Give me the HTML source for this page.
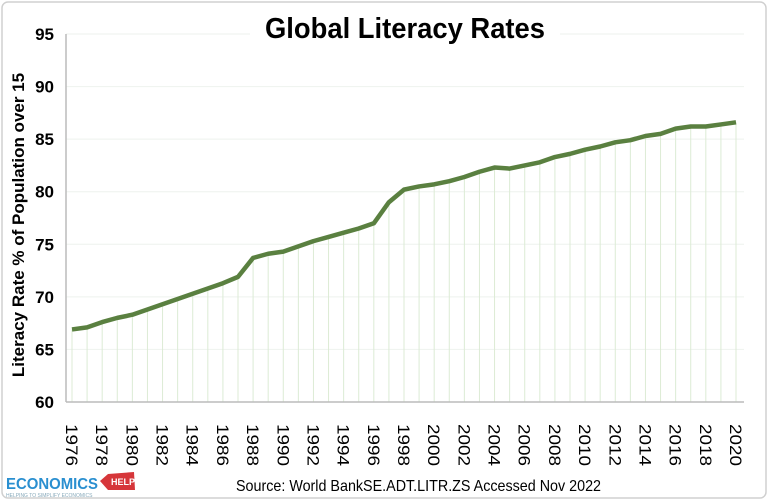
<!DOCTYPE html>
<html><head><meta charset="utf-8"><style>
body{margin:0;background:#fff;font-family:"Liberation Sans",sans-serif}
#wrap{position:relative;width:768px;height:500px;overflow:hidden}
</style></head><body>
<div id="wrap">
<svg id="svg" width="768" height="500">
<rect x="2" y="2" width="764" height="496" rx="6" fill="#fff" stroke="#d0d0d0" stroke-width="1.5"/>
<g id="grid"></g><g id="drops"></g><g id="yt"></g><g id="xt"></g>
<line x1="66" y1="34" x2="66" y2="402" stroke="#bbb" stroke-width="1.5"/>
<line x1="66" y1="402" x2="744" y2="402" stroke="#bbb" stroke-width="1.5"/>
<path id="line" fill="none" stroke="#5a8040" stroke-width="4.5" stroke-linejoin="round"/>
<rect x="250" y="8" width="310" height="36" fill="#fff"/>
<text x="405" y="38" text-anchor="middle" font-size="29" font-weight="bold" fill="#000" textLength="280" lengthAdjust="spacingAndGlyphs">Global Literacy Rates</text>
<text transform="translate(24,225) rotate(-90)" text-anchor="middle" font-size="17" font-weight="bold" fill="#000">Literacy Rate % of Population over 15</text>
<text x="6" y="489" font-size="16" font-weight="bold" fill="#2a8fd0" textLength="92" lengthAdjust="spacingAndGlyphs">ECONOMICS</text>
<path d="M100 481 L108 474 L134 472 L135 490 L108 490 Z" fill="#d6363a"/>
<text x="111" y="485" font-size="9" font-weight="bold" fill="#fff">HELP</text>
<text x="6" y="497" font-size="5" fill="#8ab">HELPING TO SIMPLIFY ECONOMICS</text>
<text x="236" y="491" font-size="16" fill="#000" textLength="365" lengthAdjust="spacingAndGlyphs">Source: World BankSE.ADT.LITR.ZS Accessed Nov 2022</text>
</svg></div>
<script>
const years=[1976,1977,1978,1979,1980,1981,1982,1983,1984,1985,1986,1987,1988,1989,1990,1991,1992,1993,1994,1995,1996,1997,1998,1999,2000,2001,2002,2003,2004,2005,2006,2007,2008,2009,2010,2011,2012,2013,2014,2015,2016,2017,2018,2019,2020];
const rates=[66.9,67.1,67.6,68.0,68.3,68.8,69.3,69.8,70.3,70.8,71.3,71.9,73.7,74.1,74.3,74.8,75.3,75.7,76.1,76.5,77.0,79.0,80.2,80.5,80.7,81.0,81.4,81.9,82.3,82.2,82.5,82.8,83.3,83.6,84.0,84.3,84.7,84.9,85.3,85.5,86.0,86.2,86.2,86.4,86.6];
const yTicks=[60,65,70,75,80,85,90,95];
const NS='http://www.w3.org/2000/svg';
function X(yr){return 72+(yr-1976)*(736-72)/44}
function Y(v){return 402-(v-60)*(368/35)}
function mk(tag,attrs,parent){const e=document.createElementNS(NS,tag);for(const k in attrs)e.setAttribute(k,attrs[k]);document.getElementById(parent).appendChild(e);return e}
yTicks.forEach(t=>{
 if(t>60){const g=mk('line',{x1:66,x2:744,y1:Y(t),y2:Y(t),stroke:'#eef2ee','stroke-width':1},'grid');
 
 }
 const l=mk('text',{x:54,y:Y(t)+6,'text-anchor':'end','font-size':17,'font-weight':'bold'},'yt');l.textContent=t;
 
 
});
years.forEach((yr,i)=>{
 const d=mk('line',{x1:X(yr),x2:X(yr),y1:Y(rates[i]),y2:402,stroke:'#dcebd5','stroke-width':1},'drops');
 
 
 if(i%2===0){const t=mk('text',{transform:`translate(${X(yr)-6},424) rotate(90)`,'font-size':17,fill:'#000',textLength:42,lengthAdjust:'spacingAndGlyphs'},'xt');t.textContent=yr;
 
 }
});
document.getElementById('line').setAttribute('d',years.map((yr,i)=>(i?'L':'M')+X(yr)+' '+Y(rates[i])).join(' '));
</script>
</body></html>
